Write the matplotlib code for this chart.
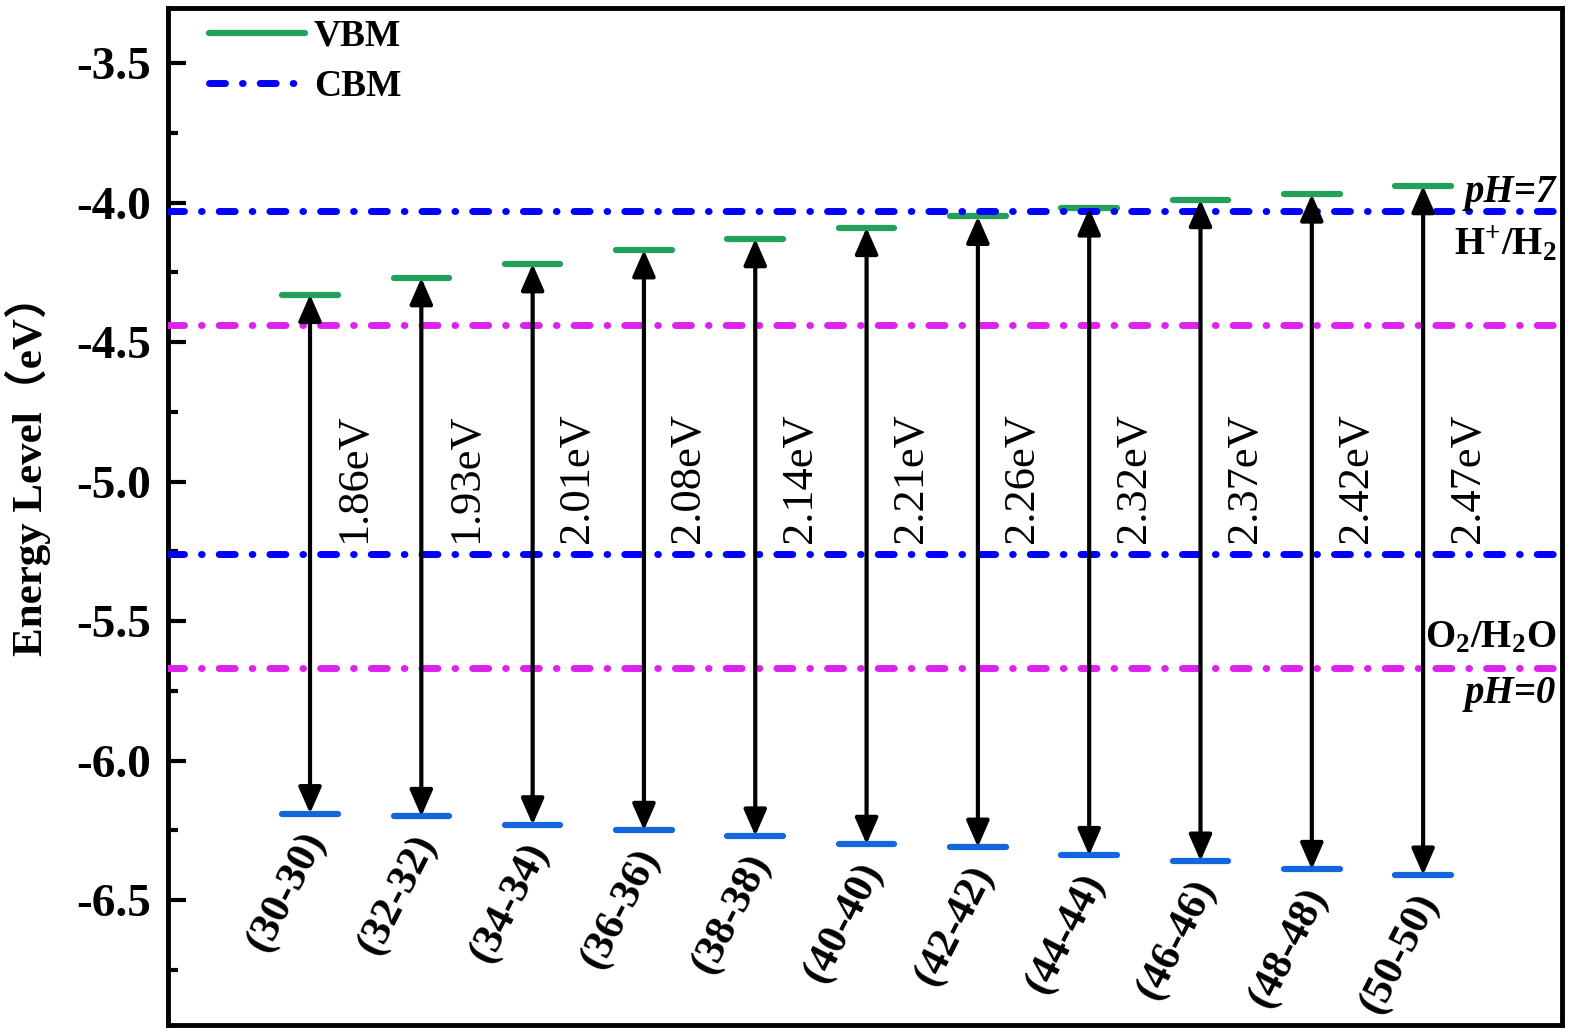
import matplotlib
matplotlib.use("Agg")
import matplotlib.pyplot as plt
import numpy as np

plt.rcParams['font.family'] = ['Liberation Serif', 'DejaVu Serif']
plt.rcParams['axes.unicode_minus'] = False
plt.rcParams['mathtext.fontset'] = 'custom'
plt.rcParams['mathtext.rm'] = 'Liberation Serif:bold'
plt.rcParams['mathtext.bf'] = 'Liberation Serif:bold'
plt.rcParams['mathtext.it'] = 'Liberation Serif:italic:bold'

# data
labels = ['(30-30)', '(32-32)', '(34-34)', '(36-36)', '(38-38)', '(40-40)',
          '(42-42)', '(44-44)', '(46-46)', '(48-48)', '(50-50)']
vbm = [-4.33, -4.27, -4.22, -4.17, -4.13, -4.09, -4.05, -4.02, -3.99, -3.97, -3.94]
cbm = [-6.19, -6.20, -6.23, -6.25, -6.27, -6.30, -6.31, -6.34, -6.36, -6.39, -6.41]
gaps = ['1.86eV', '1.93eV', '2.01eV', '2.08eV', '2.14eV', '2.21eV',
        '2.26eV', '2.32eV', '2.37eV', '2.42eV', '2.47eV']
ph7_levels = [-4.03, -5.26]
ph0_levels = [-4.44, -5.67]

green = '#23a05a'
lblue = '#1466dc'
magenta = '#dd22ee'
dashdot = (0, (2.3, 2.45, 0.1, 2.45))

x = np.arange(len(labels))

fig = plt.figure(figsize=(15.7, 10.33), dpi=100)
ax = fig.add_axes([0.107, 0.0077, 0.888, 0.9845])

ax.hlines(vbm, x - 0.25, x + 0.25, color=green, lw=4.5, capstyle='round', zorder=2)
ax.hlines(cbm, x - 0.25, x + 0.25, color=lblue, lw=4.5, capstyle='round', zorder=2)

for y in ph7_levels:
    ax.axhline(y, color='#0000ff', lw=5, ls=dashdot, dash_capstyle='round', zorder=3)
for y in ph0_levels:
    ax.axhline(y, color=magenta, lw=5, ls=dashdot, dash_capstyle='round', zorder=3)

for i in range(len(x)):
    ax.annotate('', xy=(x[i], vbm[i]), xytext=(x[i], cbm[i]),
                arrowprops=dict(arrowstyle='<|-|>,head_length=16,head_width=7',
                                color='black', lw=3, shrinkA=0, shrinkB=0,
                                mutation_scale=1), zorder=4)
    ax.text(x[i] + 0.22, -5.22, gaps[i], rotation=90, rotation_mode='anchor',
            ha='left', va='top', fontsize=32, zorder=5)
    ax.text(x[i] + 0.05, cbm[i] - 0.075, labels[i], rotation=63, rotation_mode='anchor',
            ha='right', va='center', fontsize=31, fontweight='bold', zorder=5)

# right-hand annotations
tr = ax.get_yaxis_transform()
ax.text(0.996, -3.964, 'pH=7', transform=tr, ha='right', va='center',
        fontsize=28, fontweight='bold', style='italic')
ax.text(0.996, -4.15, r'$\mathrm{H^{+}/H_{2}}$', transform=tr, ha='right', va='center',
        fontsize=28)
ax.text(0.996, -5.56, r'$\mathrm{O_{2}/H_{2}O}$', transform=tr, ha='right', va='center',
        fontsize=28)
ax.text(0.996, -5.76, 'pH=0', transform=tr, ha='right', va='center',
        fontsize=28, fontweight='bold', style='italic')

# legend
ax.plot([], [], color=green, lw=4.5, solid_capstyle='round', label='VBM')
ax.plot([], [], color='#0000ff', lw=5, ls=dashdot, dash_capstyle='round', label='CBM')
ax.legend(loc='upper left', bbox_to_anchor=(0.016, 1.008), frameon=False,
          prop={'size': 27, 'weight': 'bold'}, handlelength=2.55,
          handletextpad=0.25, labelspacing=0.42, borderaxespad=0.1)

ax.set_xlim(-1.276, 11.249)
ax.set_ylim(-6.948, -3.303)
ax.set_xticks([])
ax.set_yticks(np.arange(-6.5, -3.49, 0.5))
ax.set_yticks(np.arange(-6.75, -3.3, 0.25), minor=True)
ax.set_yticklabels(['%.1f' % v for v in np.arange(-6.5, -3.49, 0.5)],
                   fontsize=34, fontweight='bold')
ax.tick_params(axis='y', which='major', direction='in', length=13, width=3, pad=12)
ax.tick_params(axis='y', which='minor', direction='in', length=7, width=3)
for s in ax.spines.values():
    s.set_linewidth(3.5)

ax.set_ylabel('Energy Level（eV）', fontsize=31, fontweight='bold',
              family=['Liberation Serif', 'Noto Sans CJK SC'])
ax.yaxis.set_label_coords(-0.084, 0.55)

fig.savefig('out.png', dpi=100)
